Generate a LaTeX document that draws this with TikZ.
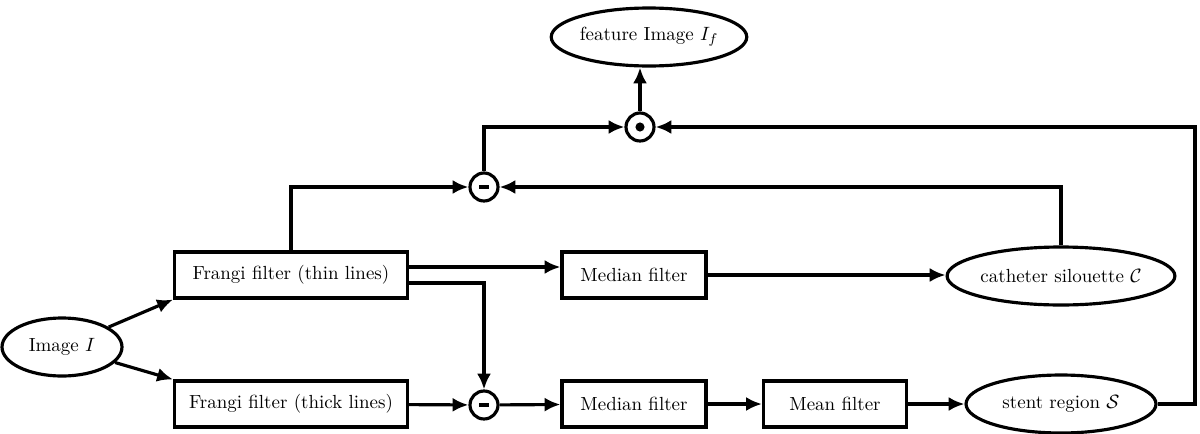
\documentclass[tikz,border=0pt]{standalone}
\usetikzlibrary{arrows.meta,shapes.geometric,calc}
\begin{document}
\begin{tikzpicture}[x=0.02cm,y=-0.02cm,
  every node/.style={font=\fontsize{10.8}{13}\selectfont},
  every path/.style={line width=1.8pt},
  box/.style={draw,rectangle,minimum height=0.92cm,inner sep=0pt},
  ell/.style={draw,ellipse,minimum height=1.16cm,inner sep=0pt},
  op/.style={draw,circle,minimum size=0.56cm,inner sep=0pt},
  arr/.style={line width=1.8pt,-{Latex[length=9pt,width=8pt]}}]
\useasboundingbox (0,0) rectangle (1200,433);
\node[ell,minimum width=2.4cm] (img) at (62,347) {Image $I$};
\node[box,minimum width=4.66cm] (thin) at (291,275) {Frangi filter (thin lines)};
\node[box,minimum width=4.66cm] (thick) at (291,404) {Frangi filter (thick lines)};
\node[box,minimum width=2.88cm] (med1) at (634,275) {Median filter};
\node[box,minimum width=2.88cm] (med2) at (634,404) {Median filter};
\node[box,minimum width=2.86cm] (mean) at (835,404) {Mean filter};
\node[ell,minimum width=3.8cm] (cath) at (1061,276) {catheter silouette $\mathcal{C}$};
\node[ell,minimum width=3.8cm] (stent) at (1061,404) {stent region $\mathcal{S}$};
\node[ell,minimum width=3.4cm] (feat) at (649,37) {feature Image $I_f$};
\node[op] (m2) at (484,405) {};
\node[op] (m1) at (484,187) {};
\node[op] (dot) at (640,127) {};
\foreach \n in {m1,m2} \draw[line width=2.6pt] ($(\n)+(-5,0)$) -- ($(\n)+(5,0)$);
\fill (dot) circle (2.6pt);
\coordinate (s1) at (408,267);
\coordinate (s2) at (408,283);
\coordinate (k2) at (484,283);
\draw[arr] (img) -- (thin.south west);
\draw[arr] (img) -- (thick.north west);
\draw[arr] (s1) -- (s1 -| med1.west);
\draw[arr] (s2) -- (k2) -- (m2);
\draw[arr] (thick) -- (m2);
\draw[arr] (m2) -- (med2);
\draw[arr] (med2) -- (mean);
\draw[arr] (mean) -- (stent);
\draw[arr] (med1) -- (med1 -| cath.west);
\draw[arr] (thin.north) |- (m1);
\draw[arr] (cath.north) |- (m1);
\draw[arr] (m1) |- (dot);
\coordinate (r) at (1195,404);
\draw[arr] (stent.east) -- (r) |- (dot);
\draw[arr] (dot) -- (dot |- feat.south);
\end{tikzpicture}
\end{document}
